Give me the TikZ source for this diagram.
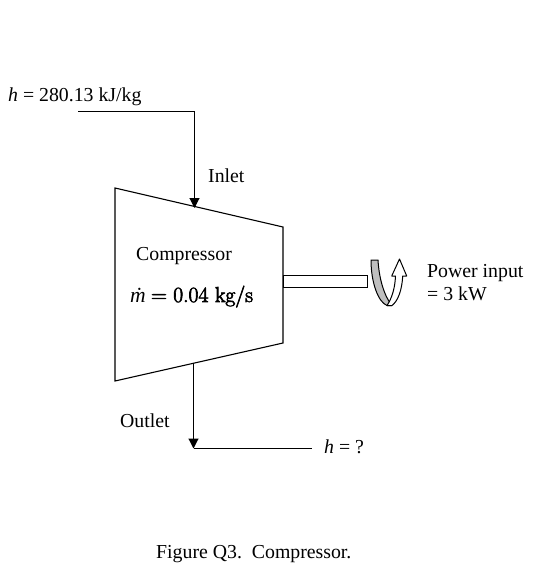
\documentclass[tikz,border=0pt]{standalone}
\usepackage{fontspec}
\setmainfont{Liberation Serif}
\newfontfamily\lmfake[FakeBold=3]{Latin Modern Roman}
\usetikzlibrary{arrows.meta}
\begin{document}
\begin{tikzpicture}[x=1pt,y=-1pt,
  line/.style={draw=black,line width=1.1pt},
  flow/.style={line,-{Triangle[length=10pt,width=10pt]}},
  lbl/.style={inner sep=0pt,anchor=base west,font=\fontsize{19.8}{23}\selectfont},
  mlbl/.style={inner sep=0pt,anchor=base west,font=\fontsize{21.6}{24}\selectfont},
  shaft/.style={draw=black,line width=1.1pt,fill=white},
  band/.style={draw=black,line width=1pt,line join=round}]
\useasboundingbox (0,0) rectangle (538,578);
\fill[white] (0,0) rectangle (538,578);
% compressor body
\draw[line,line join=miter] (115,188) -- (283,227) -- (283,343) -- (115,381) -- cycle;
% shaft
\node[shaft,inner sep=0pt,minimum width=84pt,minimum height=12pt,anchor=north west] (shaftbox) at (283,275) {};
% connector anchors
\coordinate (inStart) at (78,111.5);
\coordinate (inBend) at (194.5,111.5);
\coordinate (inEnd) at (194.5,208);
\coordinate (outStart) at (193.5,363);
\coordinate (outEnd) at (193.5,448.5);
\coordinate (outTail) at (312,448.5);
\draw[line] (inStart) -- (inBend);
\draw[flow] (inBend) -- (inEnd);
\draw[flow] (outStart) -- (outEnd);
\draw[line] (outEnd) -- (outTail);
% rotation arrow
\draw[band,fill=black!25]
  (371,260) -- (378,260) .. controls (379,278) and (384,296) .. (392,305.5)
  -- (387,305.5) .. controls (378,302) and (371,282) .. (371,260) -- cycle;
\draw[band,fill=white]
  (387,305.5) .. controls (392,298) and (395,288) .. (395.5,276)
  -- (391.7,276) -- (399.5,259) -- (406.7,276) -- (402.7,276)
  .. controls (402,290) and (398,301) .. (392,305.5) -- cycle;
% labels
\node[lbl] (hin) at (8,101) {\textit{h} = 280.13 kJ/kg};
\node[lbl] (inlet) at (208,182) {Inlet};
\node[lbl] (comp) at (136,260) {Compressor};
\node[mlbl] (mdot) at (130,302) {\textit{ṁ} {\lmfake = 0.04 kg/s}};
\node[lbl] (outlet) at (120,427) {Outlet};
\node[lbl] (hout) at (324,453) {\textit{h} = ?};
\node[lbl] (pow1) at (427,277) {Power input};
\node[lbl] (pow2) at (427,300) {= 3 kW};
\node[lbl] (fig) at (156,558) {Figure Q3.\ \ Compressor.};
\end{tikzpicture}
\end{document}
